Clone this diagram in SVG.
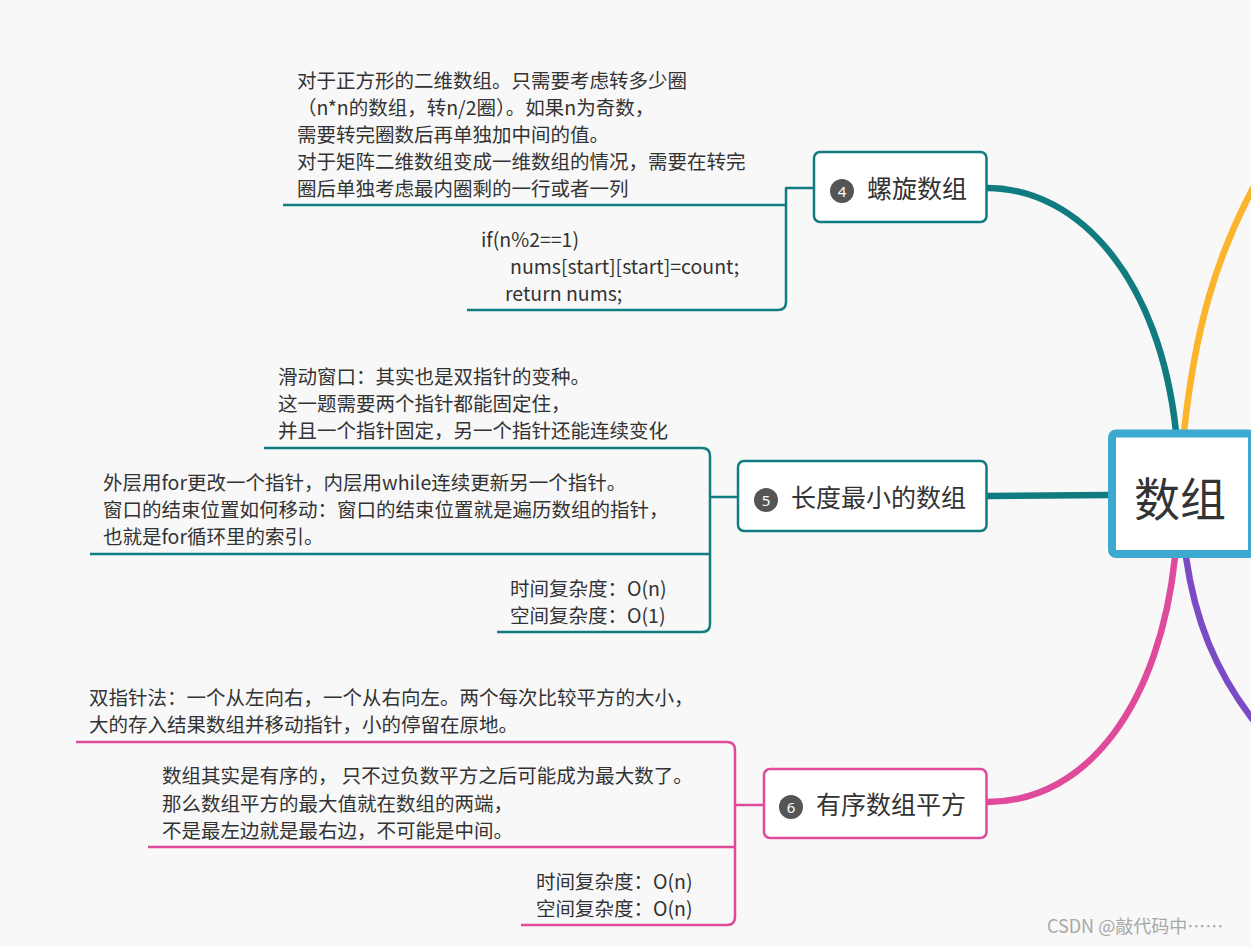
<svg xmlns="http://www.w3.org/2000/svg" width="1251" height="946" viewBox="0 0 1251 946">
<style>
  .bg { fill: #f8f8f8; }
  .t { font-family: "Noto Sans CJK SC", "Noto Sans", sans-serif; font-size: 19.5px; fill: #333333; }
  .lbl { font-family: "Noto Sans CJK SC", "Noto Sans", sans-serif; font-size: 25px; fill: #333333; }
  .num { font-family: "Noto Sans", "Liberation Sans", sans-serif; font-size: 15px; fill: #ffffff; text-anchor: middle; }
  .badge { fill: #555555; }
  .thin { fill: none; stroke-width: 2.5; stroke-linejoin: round; }
  .thick { fill: none; stroke-width: 6.5; stroke-linecap: butt; }
  .teal { stroke: #107c80; }
  .pink { stroke: #df4a9b; }
  .yellow { stroke: #fbb42b; }
  .purple { stroke: #7b4bc6; }
  .box { fill: #ffffff; stroke-width: 2.5; }
  .wm { font-family: "Noto Sans CJK SC", "Noto Sans", sans-serif; font-size: 18px; fill: #a8a8a8; }
</style>
<rect class="bg" x="0" y="0" width="1251" height="946"/>

<g id="connectors">
  <path class="thick teal" d="M987,188 C1080,188 1160,280 1176,432"/>
  <path class="thick yellow" d="M1184,432 C1195,330 1215,260 1253,188"/>
  <path class="thick purple" d="M1186,557 C1195,620 1215,670 1253,720"/>
  <path class="thick pink" d="M1175,557 C1160,700 1090,802 987,802"/>
  <path class="thick teal" d="M987,496 L1110,495"/>

  <path class="thin teal" d="M813,188 H786 V302 Q786,310 778,310 H467"/>
  <path class="thin teal" d="M786,205 H283"/>

  <path class="thin teal" d="M737,497 H710"/>
  <path class="thin teal" d="M264,448 H702 Q710,448 710,456 V624 Q710,632 702,632 H497"/>
  <path class="thin teal" d="M710,554 H90"/>

  <path class="thin pink" d="M763,805 H735"/>
  <path class="thin pink" d="M76,742 H727 Q735,742 735,750 V917 Q735,925 727,925 H521"/>
  <path class="thin pink" d="M735,847 H148"/>
</g>

<g id="root">
  <rect x="1112" y="433.5" width="140" height="120.5" rx="4" fill="#ffffff" stroke="#3ba9d0" stroke-width="8"/>
  <text x="1180" y="515.5" text-anchor="middle" style="font-family:'Noto Sans CJK SC','Noto Sans',sans-serif;font-size:46px;fill:#333333">数组</text>
</g>

<g id="node4">
  <rect class="box teal" x="814" y="152" width="172.5" height="70" rx="6"/>
  <circle class="badge" cx="842" cy="191" r="12"/>
  <text class="num" x="842" y="196.5">4</text>
  <text class="lbl" x="867" y="198">螺旋数组</text>
</g>
<g id="note4a">
  <text class="t" x="297" y="88">对于正方形的二维数组。只需要考虑转多少圈</text>
  <text class="t" x="297" y="115">（n*n的数组，转n/2圈）。如果n为奇数，</text>
  <text class="t" x="297" y="142">需要转完圈数后再单独加中间的值。</text>
  <text class="t" x="297" y="169">对于矩阵二维数组变成一维数组的情况，需要在转完</text>
  <text class="t" x="297" y="196">圈后单独考虑最内圈剩的一行或者一列</text>
</g>
<g id="note4b">
  <text class="t" x="481" y="247">if(n%2==1)</text>
  <text class="t" x="510" y="274">nums[start][start]=count;</text>
  <text class="t" x="505" y="301">return nums;</text>
</g>

<g id="node5">
  <rect class="box teal" x="738" y="461" width="248.5" height="70" rx="6"/>
  <circle class="badge" cx="766" cy="500" r="12"/>
  <text class="num" x="766" y="505.5">5</text>
  <text class="lbl" x="791" y="507">长度最小的数组</text>
</g>
<g id="note5a">
  <text class="t" x="278" y="384">滑动窗口：其实也是双指针的变种。</text>
  <text class="t" x="278" y="410.5">这一题需要两个指针都能固定住，</text>
  <text class="t" x="278" y="437.5">并且一个指针固定，另一个指针还能连续变化</text>
</g>
<g id="note5b">
  <text class="t" x="103" y="489.5">外层用for更改一个指针，内层用while连续更新另一个指针。</text>
  <text class="t" x="103" y="517">窗口的结束位置如何移动：窗口的结束位置就是遍历数组的指针，</text>
  <text class="t" x="103" y="544">也就是for循环里的索引。</text>
</g>
<g id="note5c">
  <text class="t" x="510" y="595.5">时间复杂度：O(n)</text>
  <text class="t" x="510" y="622.5">空间复杂度：O(1)</text>
</g>

<g id="node6">
  <rect class="box pink" x="764" y="769" width="222.5" height="69" rx="6"/>
  <circle class="badge" cx="791" cy="807" r="12"/>
  <text class="num" x="791" y="812.5">6</text>
  <text class="lbl" x="816" y="814">有序数组平方</text>
</g>
<g id="note6a">
  <text class="t" x="89" y="705">双指针法：一个从左向右，一个从右向左。两个每次比较平方的大小，</text>
  <text class="t" x="89" y="732">大的存入结果数组并移动指针，小的停留在原地。</text>
</g>
<g id="note6b">
  <text class="t" x="162" y="783" xml:space="preserve">数组其实是有序的， 只不过负数平方之后可能成为最大数了。</text>
  <text class="t" x="162" y="811">那么数组平方的最大值就在数组的两端，</text>
  <text class="t" x="162" y="838">不是最左边就是最右边，不可能是中间。</text>
</g>
<g id="note6c">
  <text class="t" x="536" y="889">时间复杂度：O(n)</text>
  <text class="t" x="536" y="916">空间复杂度：O(n)</text>
</g>

<text class="wm" x="1047" y="933">CSDN @敲代码中……</text>
</svg>
